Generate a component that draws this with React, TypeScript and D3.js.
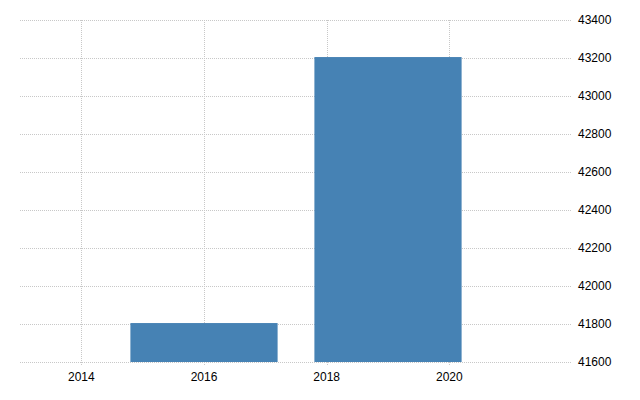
import React, {useEffect} from 'react';
import * as d3 from 'd3';

// bar periods (centre year) and their values
const years = [2016, 2019];
const values = [41805, 43205];
// tick labels
const xTicks = [2014, 2016, 2018, 2020];
const yTicks = [41600, 41800, 42000, 42200, 42400, 42600, 42800, 43000, 43200, 43400];

const width = 640;
const height = 400;
const margin = {top: 20, right: 68, bottom: 38, left: 20};

const App: React.FC = () => {
  useEffect(() => {
    document.body.style.margin = '0';
  }, []);

  // time-like linear x scale in years
  const x = d3
    .scaleLinear()
    .domain([2013, 2022])
    .range([margin.left, width - margin.right]);
  const y = d3
    .scaleLinear()
    .domain([41600, 43400])
    .range([height - margin.bottom, margin.top]);

  // each bar covers a 3 year slot with 20% padding
  const barW = (x(2016) - x(2013)) * 0.8;
  const font = 'Arial, "Liberation Sans", sans-serif';

  return (
    <svg width={width} height={height} style={{display: 'block'}}>
      {/* horizontal grid */}
      {yTicks.map((t) => (
        <line
          key={'h' + t}
          x1={margin.left}
          x2={width - margin.right}
          y1={Math.round(y(t)) + 0.5}
          y2={Math.round(y(t)) + 0.5}
          stroke="#c8c8c8"
          strokeDasharray="1,1"
        />
      ))}
      {/* vertical grid */}
      {xTicks.map((t) => (
        <line
          key={'v' + t}
          x1={Math.round(x(t)) + 0.5}
          x2={Math.round(x(t)) + 0.5}
          y1={margin.top}
          y2={height - margin.bottom + 4}
          stroke="#c8c8c8"
          strokeDasharray="1,1"
        />
      ))}
      {/* bars */}
      {years.map((yr, i) => (
        <rect
          key={yr}
          x={x(yr) - barW / 2}
          width={barW}
          y={y(values[i])}
          height={y(41600) - y(values[i])}
          fill="#4682b4"
        />
      ))}
      {/* y labels */}
      {yTicks.map((t) => (
        <text
          key={'yl' + t}
          x={width - margin.right + 6}
          y={y(t)}
          dy="0.35em"
          fontFamily={font}
          fontSize={12}
          fill="#000"
        >
          {t}
        </text>
      ))}
      {/* x labels */}
      {xTicks.map((t) => (
        <text
          key={'xl' + t}
          x={x(t)}
          y={height - margin.bottom + 19}
          textAnchor="middle"
          fontFamily={font}
          fontSize={12}
          fill="#000"
        >
          {t}
        </text>
      ))}
    </svg>
  );
};

export default App;
